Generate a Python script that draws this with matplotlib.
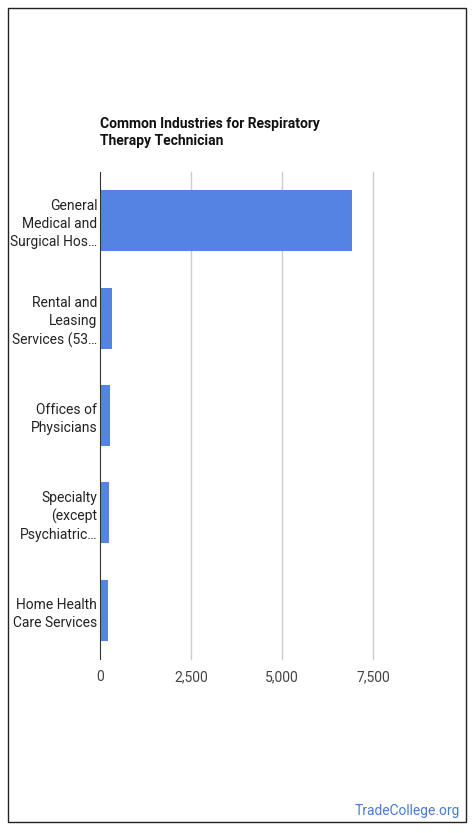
import matplotlib.pyplot as plt
from matplotlib.patches import Rectangle

# data
industries = [
    "General\nMedical and\nSurgical Hos…",
    "Rental and\nLeasing\nServices (53…",
    "Offices of\nPhysicians",
    "Specialty\n(except\nPsychiatric…",
    "Home Health\nCare Services",
]
employment = [6930, 340, 280, 260, 230]
xticks = [0, 2500, 5000, 7500]
xtick_labels = ["0", "2,500", "5,000", "7,500"]

plt.rcParams['font.family'] = ['Roboto', 'DejaVu Sans']

fig = plt.figure(figsize=(4.76, 8.33), dpi=100)
ax = fig.add_axes([100 / 476, 1 - 659 / 833, 273 / 476, 487 / 833])

pos = list(range(len(industries)))
ax.barh(pos, employment, height=0.625, color='#5384e3', zorder=3)
ax.set_ylim(len(industries) - 0.5, -0.5)
ax.set_xlim(0, 7500)

ax.set_xticks(xticks)
ax.set_xticklabels(xtick_labels, fontsize=10, color='#444444')
ax.set_yticks(pos)
ax.set_yticklabels(industries, fontsize=10, color='#222222', linespacing=1.35)
ax.tick_params(length=0)
ax.tick_params(axis='x', pad=8)
ax.tick_params(axis='y', pad=2)

# vertical gridlines, not clipped so the 7,500 line shows fully
for xv in xticks[1:]:
    ax.axvline(xv, color='#cccccc', linewidth=1, zorder=0, clip_on=False)
for s in ['top', 'right', 'bottom']:
    ax.spines[s].set_visible(False)
ax.spines['left'].set_color('#333333')
ax.spines['left'].set_zorder(4)

fig.text(100 / 476, 1 - 117 / 833, "Common Industries for Respiratory\nTherapy Technician",
         fontsize=10, fontweight='bold', color='#111111', va='top', ha='left',
         linespacing=1.3)

fig.text(460 / 476, 1 - 811 / 833, "TradeCollege.org", fontsize=10, color='#4a7bd0',
         ha='right', va='center')

fig.patches.append(Rectangle((8 / 476, 1 - 822 / 833), 458 / 476, 814 / 833,
                             transform=fig.transFigure, fill=False,
                             edgecolor='#222222', linewidth=1))

fig.savefig('out.png', dpi=100)
